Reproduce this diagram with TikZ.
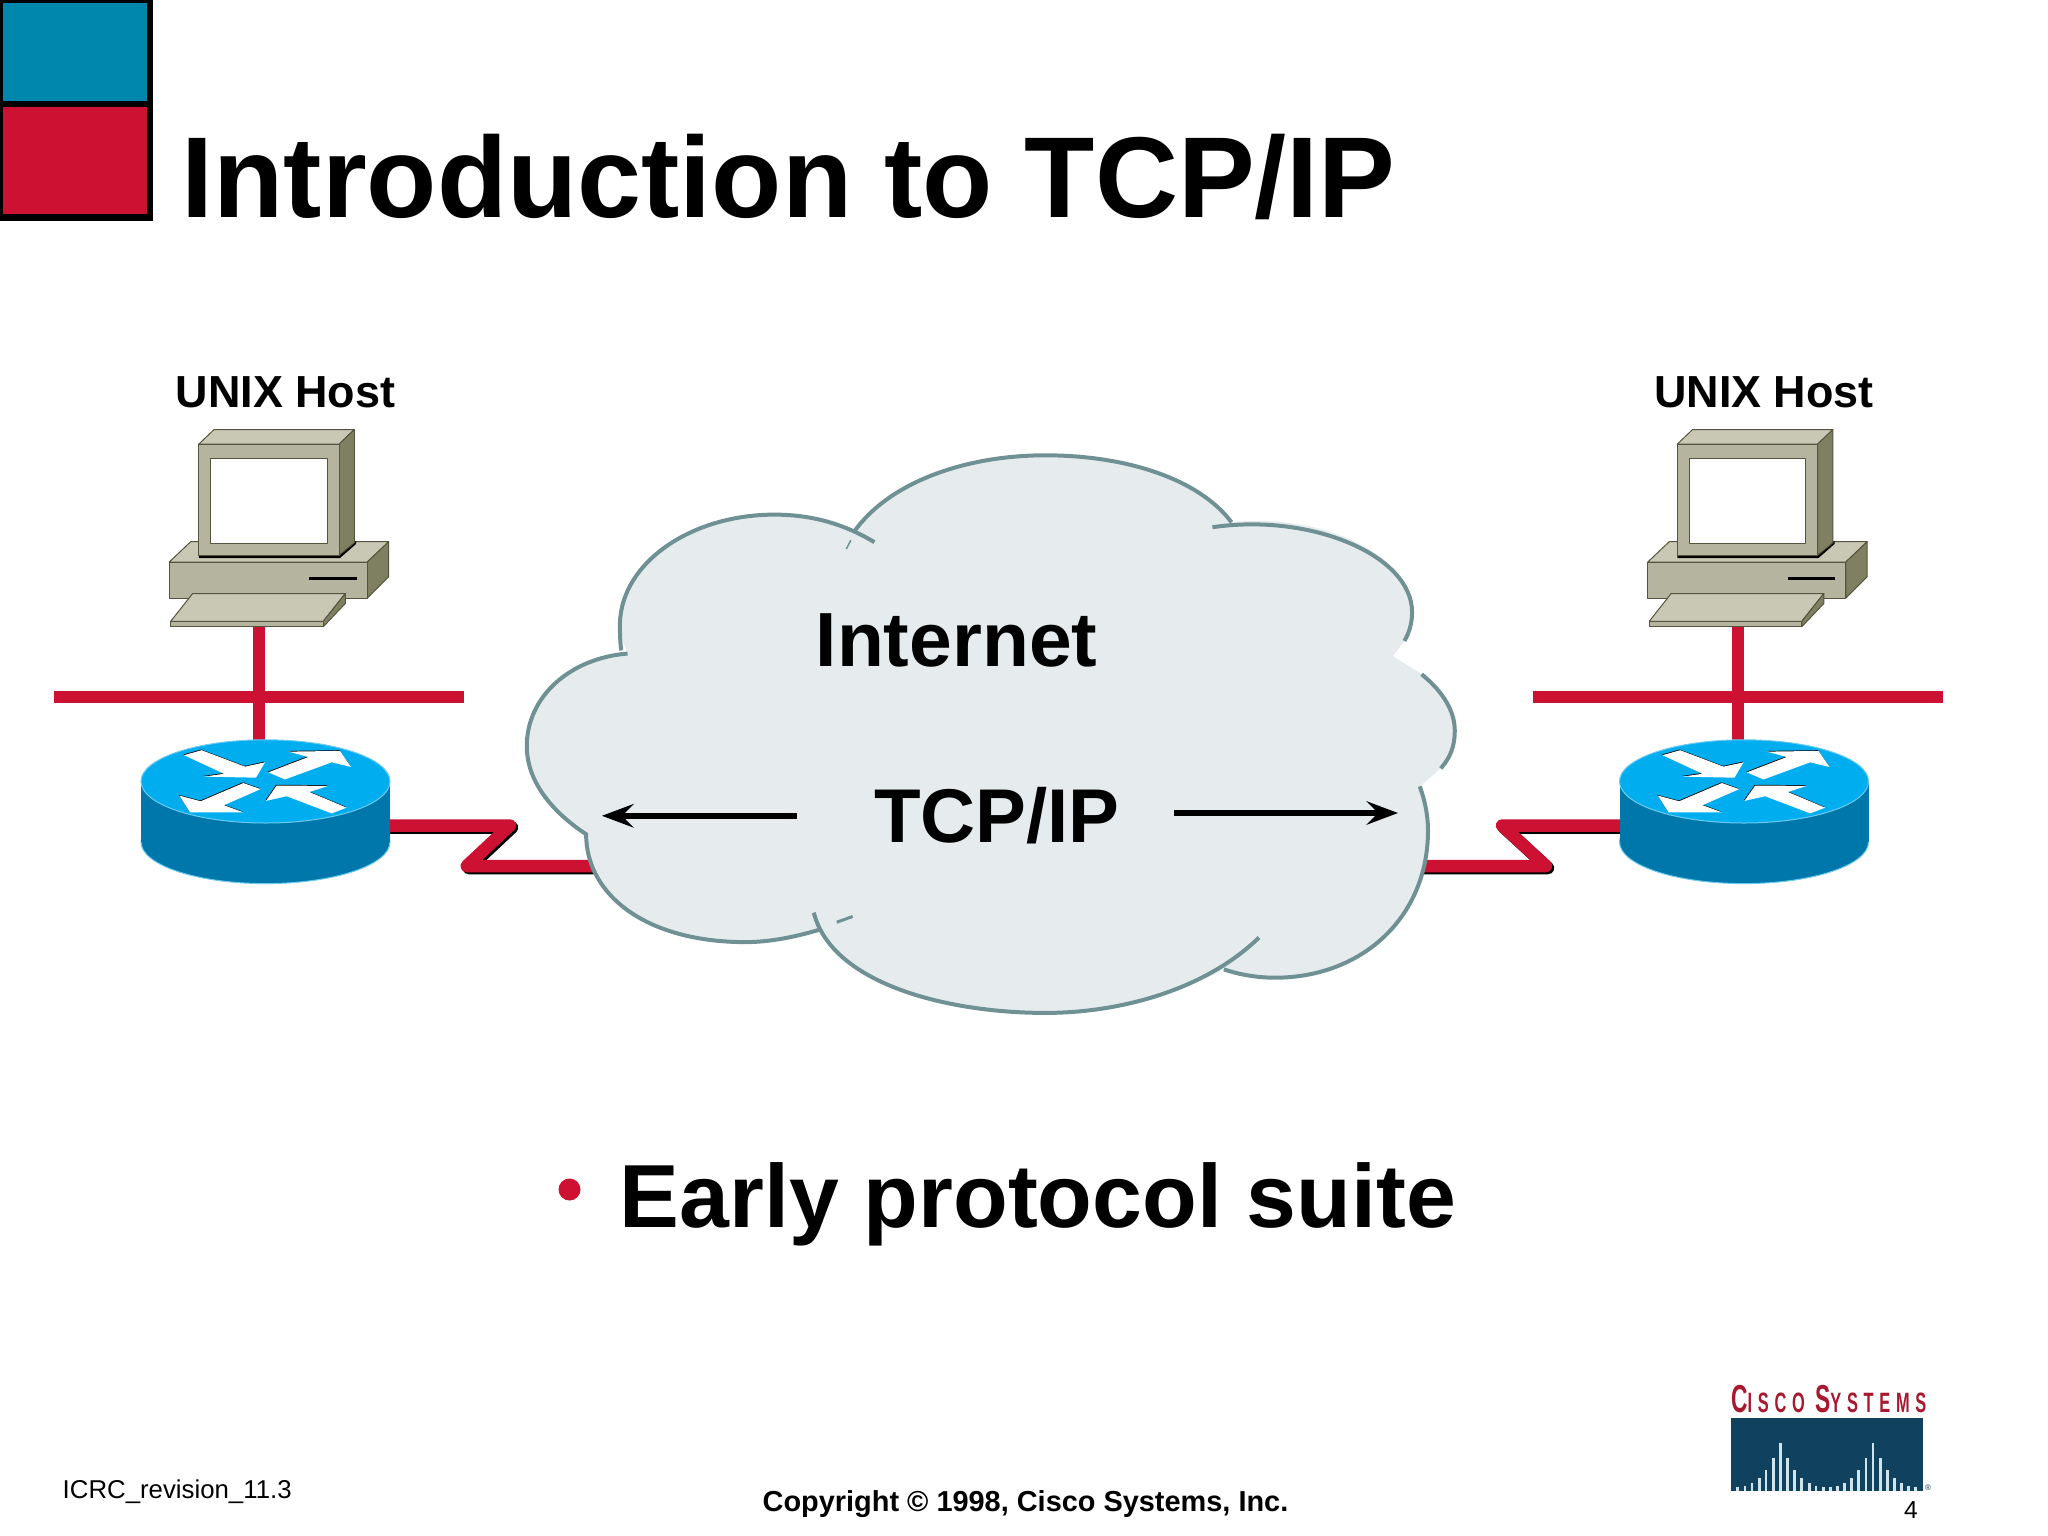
\documentclass[tikz,border=0pt]{standalone}
\usepackage{fontspec}
\setmainfont{Liberation Sans}
\newfontfamily\logofont[LetterSpace=35,Scale=1]{Liberation Sans Bold}
\usetikzlibrary{arrows.meta}
\definecolor{slidered}{HTML}{CC1133}
\definecolor{slideblue}{HTML}{0087AE}
\definecolor{pcfront}{HTML}{B5B59F}
\definecolor{pctop}{HTML}{C8C8B4}
\definecolor{pcside}{HTML}{7F7F62}
\definecolor{pcline}{HTML}{55553F}
\definecolor{rttop}{HTML}{00AEEF}
\definecolor{rtside}{HTML}{0077AA}
\definecolor{rtedge}{HTML}{6CCBF0}
\definecolor{cloudfill}{HTML}{E6ECEE}
\definecolor{cloudline}{HTML}{6F9194}
\definecolor{logored}{HTML}{A6192E}
\definecolor{logoblue}{HTML}{10415F}
\definecolor{logobar}{HTML}{CFE5EE}
\tikzset{
  pcpart/.style={draw=pcline,line width=1pt,line join=round},
  redline/.style={slidered,line width=12pt},
  serial/.style={slidered,line width=12.5pt,line join=round,line cap=round},
  serialshadow/.style={black,line width=12.5pt,line join=round,line cap=round,transform canvas={shift={(2,2)}}},
  cloudstroke/.style={cloudline,line width=4pt},
  flowarrow/.style={black,line width=5.5pt,-{Stealth[length=32pt,width=24pt,inset=12pt,line width=0pt]}},
  boldtext/.style={inner sep=0,anchor=base west,font=\bfseries\fontsize{#1}{#1}\selectfont},
  plaintext/.style={inner sep=0,anchor=base west,font=\fontsize{#1}{#1}\selectfont},
  rtarrow/.style={fill=white},
  rtshadow/.style={fill=black,shift={(-1.5,-2)}},
}
\newcommand\hostgroup[2]{%
\begin{scope}[xshift=#1pt]
  \coordinate (#2pc) at (259,620);
  \coordinate (#2router) at (259,745);
  \coordinate (#2lanW) at (54.3,697);
  \coordinate (#2lanE) at (464,697);
  \draw[redline] (#2pc) -- (#2router);
  \draw[redline] (#2lanW) -- (#2lanE);
  % base unit
  \filldraw[pcpart,fill=pctop] (169.3,562) -- (190.7,541.7) -- (388.7,541.7) -- (367.3,562) -- cycle;
  \filldraw[pcpart,fill=pcside] (367.3,562) -- (388.7,541.7) -- (388.7,576.7) -- (367.3,598) -- cycle;
  \filldraw[pcpart,fill=pcfront] (169.3,562) rectangle (367.3,598);
  \fill[black] (309,577) rectangle (356.7,580);
  % monitor
  \fill[black] (198.7,553) -- (339,553) -- (356,541) -- (356,544) -- (340,558) -- (199,558) -- cycle;
  \filldraw[pcpart,fill=pctop] (198.7,444.2) -- (214,429.6) -- (354.3,429.6) -- (339,444.2) -- cycle;
  \filldraw[pcpart,fill=pcside] (339,444.2) -- (354.3,429.6) -- (354.3,542.8) -- (339,555.3) -- cycle;
  \filldraw[pcpart,fill=pcfront] (198.7,444.2) rectangle (339,555.3);
  \filldraw[pcpart,fill=white] (210.7,458.2) rectangle (327.3,543.9);
  % keyboard
  \filldraw[pcpart,fill=pctop] (170.7,621.3) -- (192.7,593.5) -- (345.3,593.5) -- (323.3,621.3) -- cycle;
  \filldraw[pcpart,fill=pcside] (323.3,621.3) -- (345.3,593.5) -- (345.3,603.5) -- (323.3,626.7) -- cycle;
  \filldraw[pcpart,fill=pcfront] (170.7,621.3) rectangle (323.3,626.7);
  % router
  \filldraw[fill=rtside,draw=rtedge,line width=1pt] (265.5,842) ellipse [x radius=124.5,y radius=41.6];
  \fill[rtside] (141,781.4) rectangle (390,842);
  \filldraw[fill=rttop,draw=rtedge,line width=1pt] (265.5,781.4) ellipse [x radius=124.5,y radius=41.6];
  \begin{scope}[shift={(40,350)},xscale=1/3,yscale=0.357]
    \foreach \sty in {rtshadow,rtarrow}{
      \path[\sty] (432,1135) -- (485,1121) -- (615,1167) -- (675,1155) -- (648,1198) -- (492,1195) -- (552,1187) -- cycle;
      \path[\sty] (685,1183) -- (805,1140) -- (745,1125) -- (900,1123) -- (933,1168) -- (875,1155) -- (735,1203) -- cycle;
      \path[\sty] (418,1248) -- (482,1264) -- (610,1213) -- (662,1230) -- (552,1275) -- (610,1295) -- (450,1295) -- cycle;
      \path[\sty] (678,1263) -- (710,1220) -- (865,1221) -- (808,1238) -- (920,1282) -- (875,1298) -- (740,1250) -- cycle;
    }
  \end{scope}
\end{scope}}
\begin{document}
\begin{tikzpicture}[x=1pt,y=-1pt]
\useasboundingbox (0,0) rectangle (2048,1536);
\fill[white] (0,0) rectangle (2048,1536);
% corner squares
\fill[black] (0,0) rectangle (153,221);
\fill[slideblue] (3,3) rectangle (147,101);
\fill[slidered] (3,107) rectangle (147,214);
\node[boldtext=115] (title) at (181.5,217.5) {Introduction to TCP/IP};
\node[boldtext=44.9] (hostL) at (175.5,407) {UNIX Host};
\node[boldtext=44.9] (hostR) at (1654,407) {UNIX Host};
% serial links
\coordinate (rtLport) at (380,825.5);
\coordinate (zigL1) at (510,825.5);
\coordinate (zigL2) at (466.7,866);
\coordinate (cloudL) at (610,866);
\coordinate (rtRport) at (1630,825.5);
\coordinate (zigR1) at (1502,825.5);
\coordinate (zigR2) at (1546,866);
\coordinate (cloudR) at (1410,866);
\foreach \sty in {serialshadow,serial}{
  \draw[\sty] (rtLport) -- (zigL1) -- (zigL2) -- (cloudL);
  \draw[\sty] (rtRport) -- (zigR1) -- (zigR2) -- (cloudR);
}
\hostgroup{0}{L}
\hostgroup{1478.5}{R}
% cloud
\begin{scope}[shift={(500,440)},xscale=0.6378,yscale=0.3827]
\fill[cloudfill] (555,240) .. controls (610,110) and (730,40) .. (855,40) .. controls (980,40) and (1095,100) .. (1147,215)
 .. controls (1290,190) and (1430,300) .. (1430,450) .. controls (1430,480) and (1425,505) .. (1418,525)
 -- (1400,565) -- (1445,612) .. controls (1480,660) and (1497,710) .. (1497,760) .. controls (1497,800) and (1490,830) .. (1475,858)
 -- (1442,905) .. controls (1452,950) and (1455,990) .. (1455,1020) .. controls (1455,1250) and (1350,1405) .. (1215,1405)
 .. controls (1190,1405) and (1160,1398) .. (1135,1383) .. controls (1050,1460) and (950,1497) .. (855,1497)
 .. controls (700,1497) and (540,1420) .. (500,1280) .. controls (460,1300) and (420,1312) .. (385,1312)
 .. controls (230,1312) and (135,1190) .. (135,1030) .. controls (80,970) and (42,890) .. (42,800)
 .. controls (42,670) and (110,570) .. (200,558) .. controls (190,520) and (188,500) .. (188,480)
 .. controls (190,320) and (300,195) .. (430,195) .. controls (475,195) and (520,210) .. (555,240) -- cycle;
\draw[cloudstroke] (555,240) .. controls (610,110) and (730,40) .. (855,40) .. controls (980,40) and (1095,100) .. (1147,215);
\draw[cloudstroke] (1117,228) .. controls (1270,190) and (1430,300) .. (1430,450) .. controls (1430,480) and (1425,505) .. (1418,525);
\draw[cloudstroke] (1445,612) .. controls (1480,660) and (1497,710) .. (1497,760) .. controls (1497,800) and (1490,830) .. (1475,858);
\draw[cloudstroke] (1442,905) .. controls (1452,950) and (1455,990) .. (1455,1020) .. controls (1455,1250) and (1350,1405) .. (1215,1405) .. controls (1190,1405) and (1160,1398) .. (1135,1383);
\draw[cloudstroke] (1190,1300) .. controls (1110,1430) and (980,1497) .. (855,1497) .. controls (700,1497) and (520,1420) .. (492,1235);
\draw[cloudstroke] (500,1280) .. controls (460,1300) and (420,1312) .. (385,1312) .. controls (230,1312) and (135,1190) .. (135,1030) .. controls (80,970) and (42,890) .. (42,800) .. controls (42,670) and (110,570) .. (200,558);
\draw[cloudstroke] (190,550) .. controls (188,520) and (188,500) .. (188,480) .. controls (190,320) and (300,195) .. (430,195) .. controls (490,195) and (540,220) .. (587,267);
\draw[cloudline,line width=1.5pt] (550,262) -- (543,285);
\draw[cloudline,line width=3pt] (553,1245) -- (528,1260);
\end{scope}
\node[boldtext=76.8] (internet) at (815.5,666.6) {Internet};
\node[boldtext=76.2] (tcpip) at (874,842) {TCP/IP};
\coordinate (arrLs) at (797,815.8);
\coordinate (arrLe) at (602,815.8);
\coordinate (arrRs) at (1174,813);
\coordinate (arrRe) at (1398,813);
\draw[flowarrow] (arrLs) -- (arrLe);
\draw[flowarrow] (arrRs) -- (arrRe);
% bullet text
\node[circle,fill=slidered,inner sep=0,minimum size=22pt] (bullet) at (569.5,1189.5) {};
\node[boldtext=89.6] (early) at (619.5,1227) {Early protocol suite};
% footer
\node[plaintext=25.8] (rev) at (62.5,1498) {ICRC\_revision\_11.3};
\node[boldtext=28.9] (copy) at (762.5,1511) {Copyright © 1998, Cisco Systems, Inc.};
\node[plaintext=24.6] (pageno) at (1904,1518) {4};
% logo
\node[inner sep=0,anchor=base west,text=logored,xscale=0.585] (logotext) at (1731,1412)
  {\logofont\fontsize{39}{39}\selectfont C\fontsize{28}{28}\selectfont ISCO\ \fontsize{39}{39}\selectfont S\fontsize{28}{28}\selectfont YSTEMS};
\fill[logoblue] (1731,1418.3) rectangle (1922.7,1490.7);
\foreach \bx/\btop in {173/381,195/378,216/370,238/354,258/331,280/295,301/250,323/295,344/331,365/354,388/370,408/378,430/381,451/381,472/378,494/370,515/354,536/331,558/295,579/250,601/295,622/331,643/354,664/370,686/378,707/381}{
  \fill[logobar] ({1680+\bx/3-1.4},{1360+\btop/3}) rectangle ({1680+\bx/3+1.4},1490.7);
}
\node[plaintext=8,text=logoblue] (regmark) at (1925,1490) {®};
\end{tikzpicture}
\end{document}
